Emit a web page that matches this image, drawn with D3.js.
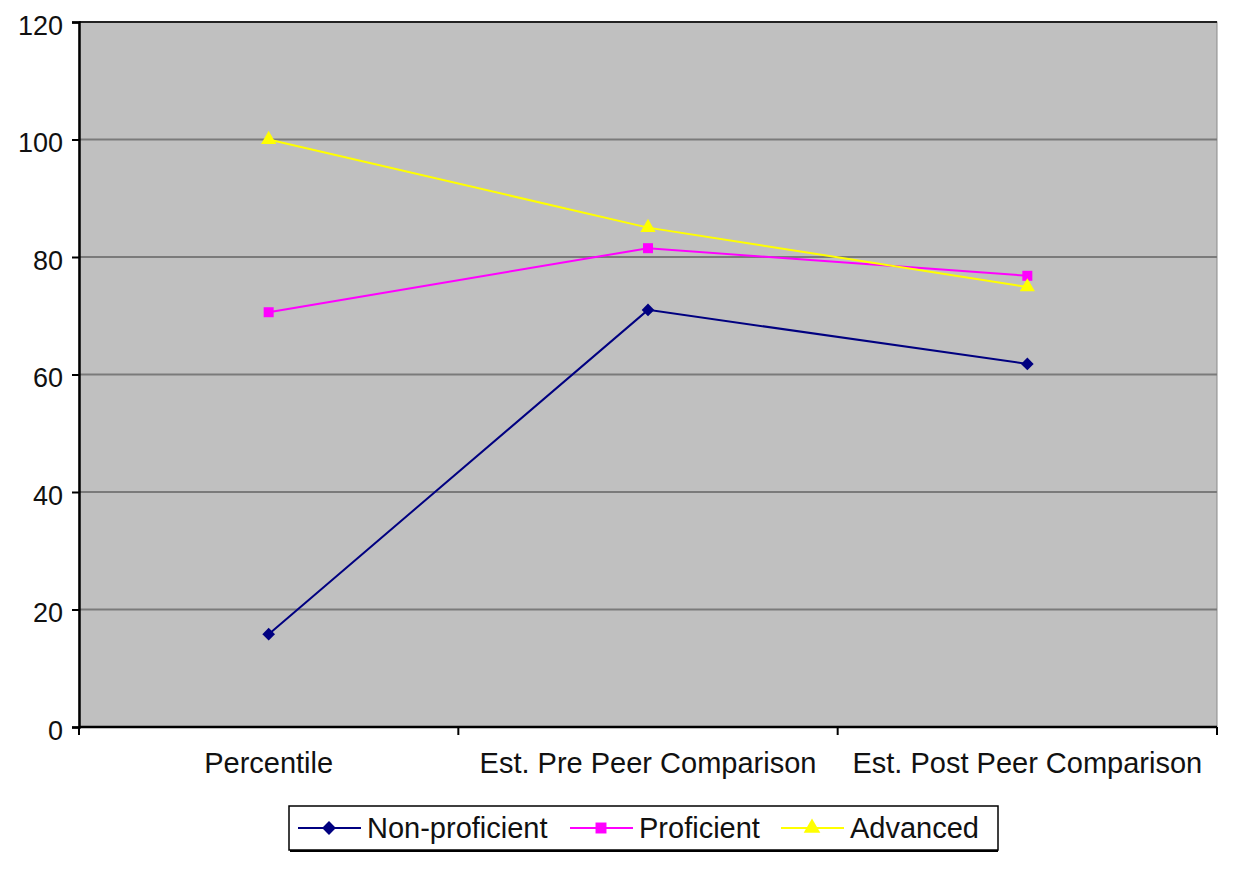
<!DOCTYPE html>
<html>
<head>
<meta charset="utf-8">
<script src="https://cdn.jsdelivr.net/npm/d3@7"></script>
<style>
  body { margin: 0; background: #fff; }
  svg { display: block; font-family: "Liberation Sans", Arial, sans-serif; }
</style>
</head>
<body>
<svg id="chart" width="1242" height="872"></svg>
<script>
// data
const categories = ["Percentile", "Est. Pre Peer Comparison", "Est. Post Peer Comparison"];
const nonProficient = [15.8, 71.0, 61.8];
const proficient = [70.6, 81.5, 76.8];
const advanced = [100, 85, 74.9];
const yTicks = [0, 20, 40, 60, 80, 100, 120];

// diamond = square turned 45deg, like the Excel marker
const series = [
  {name: "Non-proficient", values: nonProficient, color: "#000080", symbol: d3.symbolSquare, rot: 45, size: 80},
  {name: "Proficient", values: proficient, color: "#ff00ff", symbol: d3.symbolSquare, rot: 0, size: 100},
  {name: "Advanced", values: advanced, color: "#ffff00", symbol: d3.symbolTriangle, rot: 0, size: 100}
];

const svg = d3.select("#chart");
const plotL = 79, plotR = 1217, plotT = 22, plotB = 727;

const x = d3.scaleBand().domain(categories).range([plotL, plotR]);
const y = d3.scaleLinear().domain([0, 120]).range([plotB, plotT]);

// plot area
svg.append("rect")
  .attr("x", plotL).attr("y", plotT)
  .attr("width", plotR - plotL).attr("height", plotB - plotT)
  .attr("fill", "#c0c0c0")
  .attr("stroke", "#8a8a8a").attr("stroke-width", 1);

// gridlines
svg.append("g")
  .selectAll("line")
  .data(yTicks.filter(d => d > 0 && d < 120))
  .join("line")
    .attr("x1", plotL).attr("x2", plotR)
    .attr("y1", d => y(d)).attr("y2", d => y(d))
    .attr("stroke", "#7a7a7a").attr("stroke-width", 2);

// top border
svg.append("line")
  .attr("x1", plotL).attr("x2", plotR)
  .attr("y1", plotT).attr("y2", plotT)
  .attr("stroke", "#222").attr("stroke-width", 2);

// y axis
const yAxis = svg.append("g")
  .attr("transform", `translate(${plotL},0)`)
  .call(d3.axisLeft(y).tickValues(yTicks).tickSize(7).tickPadding(9));
yAxis.select(".domain").attr("stroke", "#000").attr("stroke-width", 2.5);
yAxis.selectAll(".tick line").attr("stroke", "#000").attr("stroke-width", 2);
yAxis.selectAll("text")
  .attr("font-size", 27).attr("fill", "#111").attr("dy", "0.45em")
  .attr("font-family", "Liberation Sans, Arial, sans-serif");

// x axis, ticks on band edges
const xg = svg.append("g").attr("transform", `translate(0,${plotB})`);
xg.append("line")
  .attr("x1", plotL).attr("x2", plotR)
  .attr("stroke", "#000").attr("stroke-width", 2.5);
xg.selectAll("line.tk")
  .data(categories.map(c => x(c) + x.bandwidth()).concat([plotL]))
  .join("line")
    .attr("class", "tk")
    .attr("x1", d => d).attr("x2", d => d)
    .attr("y1", 0).attr("y2", 8)
    .attr("stroke", "#000").attr("stroke-width", 2);
xg.selectAll("text")
  .data(categories)
  .join("text")
    .attr("x", c => x(c) + x.bandwidth() / 2)
    .attr("y", 46)
    .attr("text-anchor", "middle")
    .attr("font-size", 29)
    .attr("fill", "#111")
    .text(c => c);

// lines + markers
const cx = i => x(categories[i]) + x.bandwidth() / 2;
const line = d3.line().x((d, i) => cx(i)).y(d => y(d));

series.forEach(s => {
  svg.append("path")
    .datum(s.values)
    .attr("fill", "none")
    .attr("stroke", s.color)
    .attr("stroke-width", 2)
    .attr("d", line);
  svg.append("g")
    .selectAll("path")
    .data(s.values)
    .join("path")
      .attr("transform", (d, i) => `translate(${cx(i)},${y(d)}) rotate(${s.rot})`)
      .attr("d", d3.symbol().type(s.symbol).size(s.size))
      .attr("fill", s.color);
});

// legend
const lg = svg.append("g");
lg.append("rect")
  .attr("x", 289).attr("y", 806)
  .attr("width", 709).attr("height", 44)
  .attr("fill", "#fff")
  .attr("stroke", "#000").attr("stroke-width", 1.5);
lg.append("line")
  .attr("x1", 290).attr("x2", 998)
  .attr("y1", 851).attr("y2", 851)
  .attr("stroke", "#000").attr("stroke-width", 2);

const legendX = [298, 570, 781];
series.forEach((s, i) => {
  const g = lg.append("g").attr("transform", `translate(${legendX[i]},828)`);
  g.append("line")
    .attr("x1", 0).attr("x2", 63)
    .attr("stroke", s.color).attr("stroke-width", 2);
  g.append("path")
    .attr("transform", `translate(31,0) rotate(${s.rot})`)
    .attr("d", d3.symbol().type(s.symbol).size(s.size * 1.2))
    .attr("fill", s.color);
  g.append("text")
    .attr("x", 69).attr("y", 10)
    .attr("font-size", 29)
    .attr("fill", "#111")
    .text(s.name);
});
</script>
</body>
</html>
